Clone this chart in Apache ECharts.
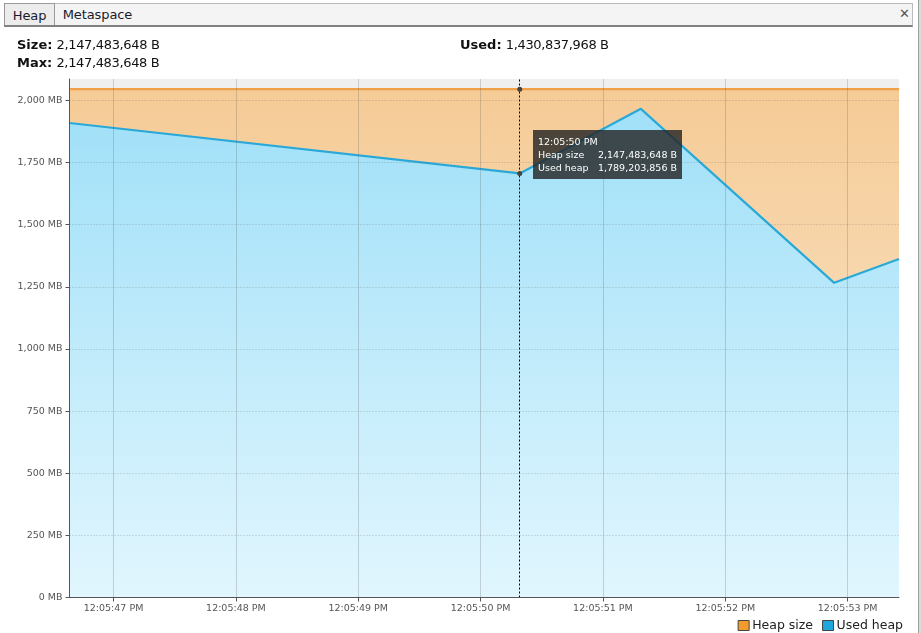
<!DOCTYPE html>
<html>
<head>
<meta charset="utf-8">
<title>Heap</title>
<script src="https://cdn.jsdelivr.net/npm/echarts@6/dist/echarts.min.js"></script>
<style>
    html, body { margin: 0; padding: 0; background: #fff; overflow: hidden; }
    body { width: 921px; height: 633px; position: relative; font-family: "DejaVu Sans", sans-serif; font-size: 13px; color: #111; }
    #echartdiv { position: absolute; left: 0; top: 0; width: 921px; height: 633px; }
    .tabbar { position: absolute; left: 4px; top: 3px; width: 908px; height: 21px; background: #f4f4f4; border: 1px solid #bbb; border-bottom: 2px solid #808080; border-left: 0; }
    .tab { position: absolute; top: 3px; height: 22px; line-height: 23px; text-align: center; box-sizing: border-box; color: #1a1a2a; letter-spacing: -0.1px; }
    .tab1 { left: 4px; width: 51px; background: #ececec; border: 1px solid #999; border-bottom: 0; }
    .tab2 { left: 55px; width: 85px; }
    .close { position: absolute; left: 899px; top: 7px; font-size: 13px; line-height: 14px; color: #555; font-weight: bold; }
    .edge { position: absolute; left: 918px; top: 0; width: 3px; height: 633px; background: #dcdad4; border-left: 1px solid #a0a0a0; box-sizing: border-box; }
    .info { position: absolute; line-height: 15px; white-space: nowrap; }
    .info b { font-weight: bold; }
    .info span { letter-spacing: -0.35px; }
</style>
</head>
<body>
<div id="echartdiv"></div>
<div class="tabbar"></div>
<div class="tab tab1">Heap</div>
<div class="tab tab2">Metaspace</div>
<div class="close">&#10005;</div>
<div class="edge"></div>
<div class="info" style="left:17px;top:37px"><b>Size:</b> <span>2,147,483,648 B</span></div>
<div class="info" style="left:17px;top:55px"><b>Max:</b> <span>2,147,483,648 B</span></div>
<div class="info" style="left:460px;top:37px"><b>Used:</b> <span>1,430,837,968 B</span></div>
<script>
// seconds after 12:05:00 PM
var pTime = [46.64, 50.32, 51.31, 52.89, 53.42];
var pHeap = [2045, 2045, 2045, 2045, 2045];
var pUsed = [1909, 1706, 1966, 1266, 1362];

var xTicks = [47, 48, 49, 50, 51, 52, 53];
var yTicks = [0, 250, 500, 750, 1000, 1250, 1500, 1750, 2000];

var xMin = 46.64;
var xMax = 53.42;
var yMax = 2086;

var tipIndex = 1;
var tipTitle = "12:05:50 PM";
var tipRows = [["Heap size", "2,147,483,648 B"], ["Used heap", "1,789,203,856 B"]];

function toPairs(values) {
    var out = [];
    for (var i = 0; i < pTime.length; i++) {
        out.push([pTime[i], values[i]]);
    }
    return out;
}

function fmtTime(v) {
    return "12:05:" + v + " PM";
}

function fmtMb(v) {
    return String(v).replace(/\B(?=(\d{3})+$)/g, ",") + " MB";
}

function fmtTip() {
    var html = '<div style="line-height:13px">' + tipTitle + '</div>';
    for (var i = 0; i < tipRows.length; i++) {
        html += '<div style="line-height:13px;display:flex;justify-content:space-between">'
            + '<span>' + tipRows[i][0] + '</span><span>' + tipRows[i][1] + '</span></div>';
    }
    return html;
}

var myChart = echarts.init(document.getElementById("echartdiv"), null, {renderer: 'canvas'});

var option = {
    animation: false,
    textStyle: {fontFamily: '"DejaVu Sans", sans-serif'},
    grid: {
        left: 69.5,
        right: 22,
        top: 79,
        bottom: 35.5,
        show: true,
        backgroundColor: '#efefef',
        borderWidth: 0
    },
    tooltip: {
        trigger: 'axis',
        alwaysShowContent: true,
        transitionDuration: 0,
        position: [533, 130],
        axisPointer: {type: 'none'},
        backgroundColor: 'rgba(38,38,38,0.82)',
        borderWidth: 0,
        borderRadius: 0,
        padding: [5, 5, 5, 5],
        extraCssText: 'box-shadow:none;width:139px;',
        textStyle: {color: '#fff', fontSize: 9.5, fontFamily: '"DejaVu Sans", sans-serif'},
        formatter: fmtTip
    },
    legend: {
        right: 18,
        bottom: 1,
        padding: 0,
        itemWidth: 11,
        itemHeight: 10,
        itemGap: 9,
        icon: 'rect',
        selectedMode: false,
        itemStyle: {borderColor: '#444', borderWidth: 1},
        textStyle: {color: '#222', fontSize: 12.5, padding: [0, 0, 0, -2]},
        data: ['Heap size', 'Used heap']
    },
    xAxis: {
        type: 'value',
        min: xMin,
        max: xMax,
        z: 5,
        axisLine: {show: true, lineStyle: {color: '#555', width: 1}},
        axisTick: {show: true, length: 4, lineStyle: {color: '#555'}, customValues: xTicks},
        axisLabel: {color: '#555', fontSize: 9.5, margin: 6, formatter: fmtTime, customValues: xTicks},
        splitLine: {show: true, lineStyle: {color: 'rgba(90,90,90,0.25)', width: 1}}
    },
    yAxis: {
        type: 'value',
        min: 0,
        max: yMax,
        z: 5,
        axisLine: {show: true, lineStyle: {color: '#555', width: 1}},
        axisTick: {show: true, length: 4, lineStyle: {color: '#555'}, customValues: yTicks},
        axisLabel: {color: '#555', fontSize: 9.5, margin: 7, formatter: fmtMb, customValues: yTicks},
        splitLine: {show: true, lineStyle: {color: 'rgba(90,90,90,0.35)', width: 1, type: [1, 2]}}
    },
    series: [
        {
            name: 'Heap size',
            type: 'line',
            data: toPairs(pHeap),
            symbol: 'none',
            emphasis: {disabled: true},
            itemStyle: {color: '#f39c2c'},
            lineStyle: {color: '#f0a048', width: 2.2},
            areaStyle: {
                opacity: 1,
                color: new echarts.graphic.LinearGradient(0, 0, 0, 1, [
                    {offset: 0, color: '#f5cb96'},
                    {offset: 1, color: '#fcebd6'}
                ])
            },
            markPoint: {
                symbol: 'circle',
                symbolSize: 5,
                silent: true,
                emphasis: {disabled: true},
                itemStyle: {color: '#444'},
                label: {show: false},
                data: [{coord: [pTime[tipIndex], pHeap[tipIndex]]}]
            }
        },
        {
            name: 'Used heap',
            type: 'line',
            data: toPairs(pUsed),
            symbol: 'none',
            emphasis: {disabled: true},
            itemStyle: {color: '#1ea7dc'},
            lineStyle: {color: '#2aa9d8', width: 2.2},
            areaStyle: {
                opacity: 1,
                color: new echarts.graphic.LinearGradient(0, 0, 0, 1, [
                    {offset: 0, color: '#a0e0f8'},
                    {offset: 1, color: '#e1f6fe'}
                ])
            },
            markLine: {
                silent: true,
                symbol: 'none',
                label: {show: false},
                emphasis: {disabled: true},
                lineStyle: {color: '#000', width: 1, type: [2, 2]},
                data: [{xAxis: pTime[tipIndex]}]
            },
            markPoint: {
                symbol: 'circle',
                symbolSize: 5,
                silent: true,
                emphasis: {disabled: true},
                itemStyle: {color: '#444'},
                label: {show: false},
                data: [{coord: [pTime[tipIndex], pUsed[tipIndex]]}]
            }
        }
    ]
};

myChart.setOption(option);
myChart.dispatchAction({type: 'showTip', seriesIndex: 1, dataIndex: tipIndex});
</script>
</body>
</html>
